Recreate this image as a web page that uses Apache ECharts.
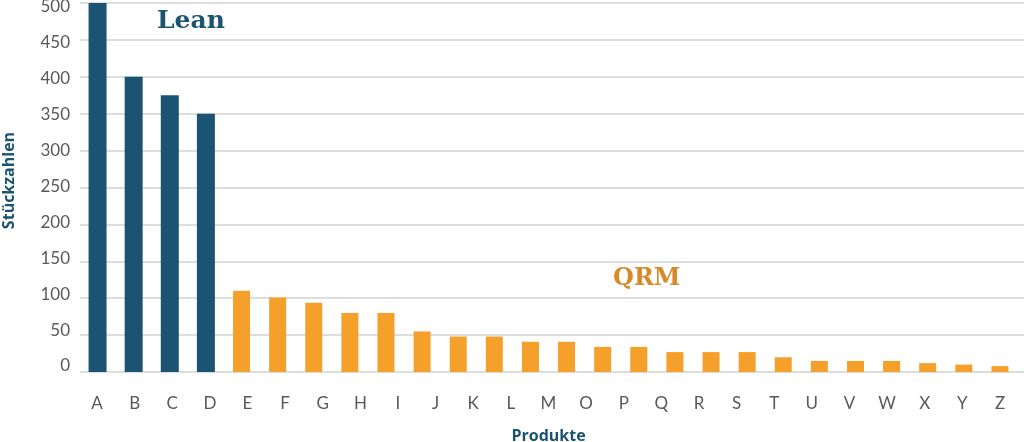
<!DOCTYPE html>
<html>
<head>
<meta charset="utf-8">
<script src="https://cdn.jsdelivr.net/npm/echarts@6/dist/echarts.min.js"></script>
<style>
html,body{margin:0;padding:0;background:#fff;}
#chart{width:1024px;height:442px;}
</style>
</head>
<body>
<div id="chart"></div>
<script>
// Balken (26 Stück, A-Z)
var barNames=['A','B','C','D','E','F','G','H','I','J','K','L','M','N','O','P','Q','R','S','T','U','V','W','X','Y','Z'];
var leanValues=[500,400,375,350];
var qrmValues=[110,101,94,80,80,55,48,48,41,41,34,34,27,27,27,20,15,15,15,12,10,8];
// Beschriftung der x-Achse (im Original ohne N)
var tickLabels=['A','B','C','D','E','F','G','H','I','J','K','L','M','O','P','Q','R','S','T','U','V','W','X','Y','Z'];
var yTicks=[0,50,100,150,200,250,300,350,400,450,500];

window.onload=function()
{
    paintChart();
}

function paintChart()
{
    var myChart=echarts.init(document.getElementById('chart'));

    var leanData=[];
    var qrmData=[];
    for(let i=0;i<barNames.length;i++)
    {
        if(i<leanValues.length)
        {
            leanData.push(leanValues[i]);
            qrmData.push('-');
        }
        else
        {
            leanData.push('-');
            qrmData.push(qrmValues[i-leanValues.length]);
        }
    }

    var yMin=yTicks[0];
    var yMax=yTicks[yTicks.length-1];
    var yStep=yTicks[1]-yTicks[0];

    var option={
        backgroundColor:'#ffffff',
        animation:false,
        grid:[
            // Gitterlinien
            {left:80,right:0,top:3,bottom:70,outerBoundsMode:'none'},
            // Balken
            {left:79,right:6,top:3,bottom:70,outerBoundsMode:'none'},
            // x-Beschriftung
            {left:97,right:24,top:3,bottom:70,outerBoundsMode:'none'},
            // y-Beschriftung (im Original leicht gestaucht)
            {left:80,right:0,top:7,bottom:76,outerBoundsMode:'none'}
        ],
        xAxis:[
            {gridIndex:0,type:'value',show:false},
            {gridIndex:1,type:'category',data:barNames,show:false},
            {
                gridIndex:2,
                type:'category',
                data:tickLabels,
                boundaryGap:false,
                axisLine:{show:false},
                axisTick:{show:false},
                axisLabel:{
                    interval:0,
                    margin:23,
                    color:'#595959',
                    fontFamily:'Lato',
                    fontSize:17
                },
                name:'Produkte',
                nameLocation:'middle',
                nameGap:56,
                nameTextStyle:{
                    color:'#1b5472',
                    fontFamily:'Open Sans',
                    fontWeight:'bold',
                    fontSize:16
                }
            },
            {gridIndex:3,type:'value',show:false}
        ],
        yAxis:[
            {
                gridIndex:0,
                type:'value',
                min:yMin,
                max:yMax,
                interval:yStep,
                axisLine:{show:false},
                axisTick:{show:false},
                axisLabel:{show:false},
                splitLine:{lineStyle:{color:'#d2d2d2',width:1.5}}
            },
            {gridIndex:1,type:'value',min:yMin,max:yMax,show:false},
            {gridIndex:2,type:'value',min:yMin,max:yMax,show:false},
            {
                gridIndex:3,
                type:'value',
                min:yMin,
                max:yMax,
                interval:yStep,
                axisLine:{show:false},
                axisTick:{show:false},
                splitLine:{show:false},
                axisLabel:{
                    margin:10,
                    color:'#595959',
                    fontFamily:'Lato',
                    fontSize:17
                },
                name:'Stückzahlen',
                nameLocation:'middle',
                nameGap:63,
                nameTextStyle:{
                    color:'#1b5472',
                    fontFamily:'Open Sans',
                    fontWeight:'bold',
                    fontSize:16,
                    padding:[0,0,0,12]
                }
            }
        ],
        series:[
            {
                name:'Lean',
                type:'bar',
                xAxisIndex:1,
                yAxisIndex:1,
                barWidth:18,
                barGap:'-100%',
                itemStyle:{color:'#1b5472'},
                data:leanData
            },
            {
                name:'QRM',
                type:'bar',
                xAxisIndex:1,
                yAxisIndex:1,
                barWidth:17,
                barGap:'-100%',
                itemStyle:{color:'#f5a02b'},
                data:qrmData
            }
        ],
        graphic:[
            {
                type:'text',
                left:157,
                top:9,
                style:{
                    text:'Lean',
                    fill:'#1b5472',
                    font:'bold 25px "DejaVu Serif"'
                }
            },
            {
                type:'text',
                left:613,
                top:267,
                style:{
                    text:'QRM',
                    fill:'#d68a2a',
                    font:'bold 24px "DejaVu Serif"'
                }
            }
        ]
    };
    myChart.setOption(option);
}
</script>
</body>
</html>
